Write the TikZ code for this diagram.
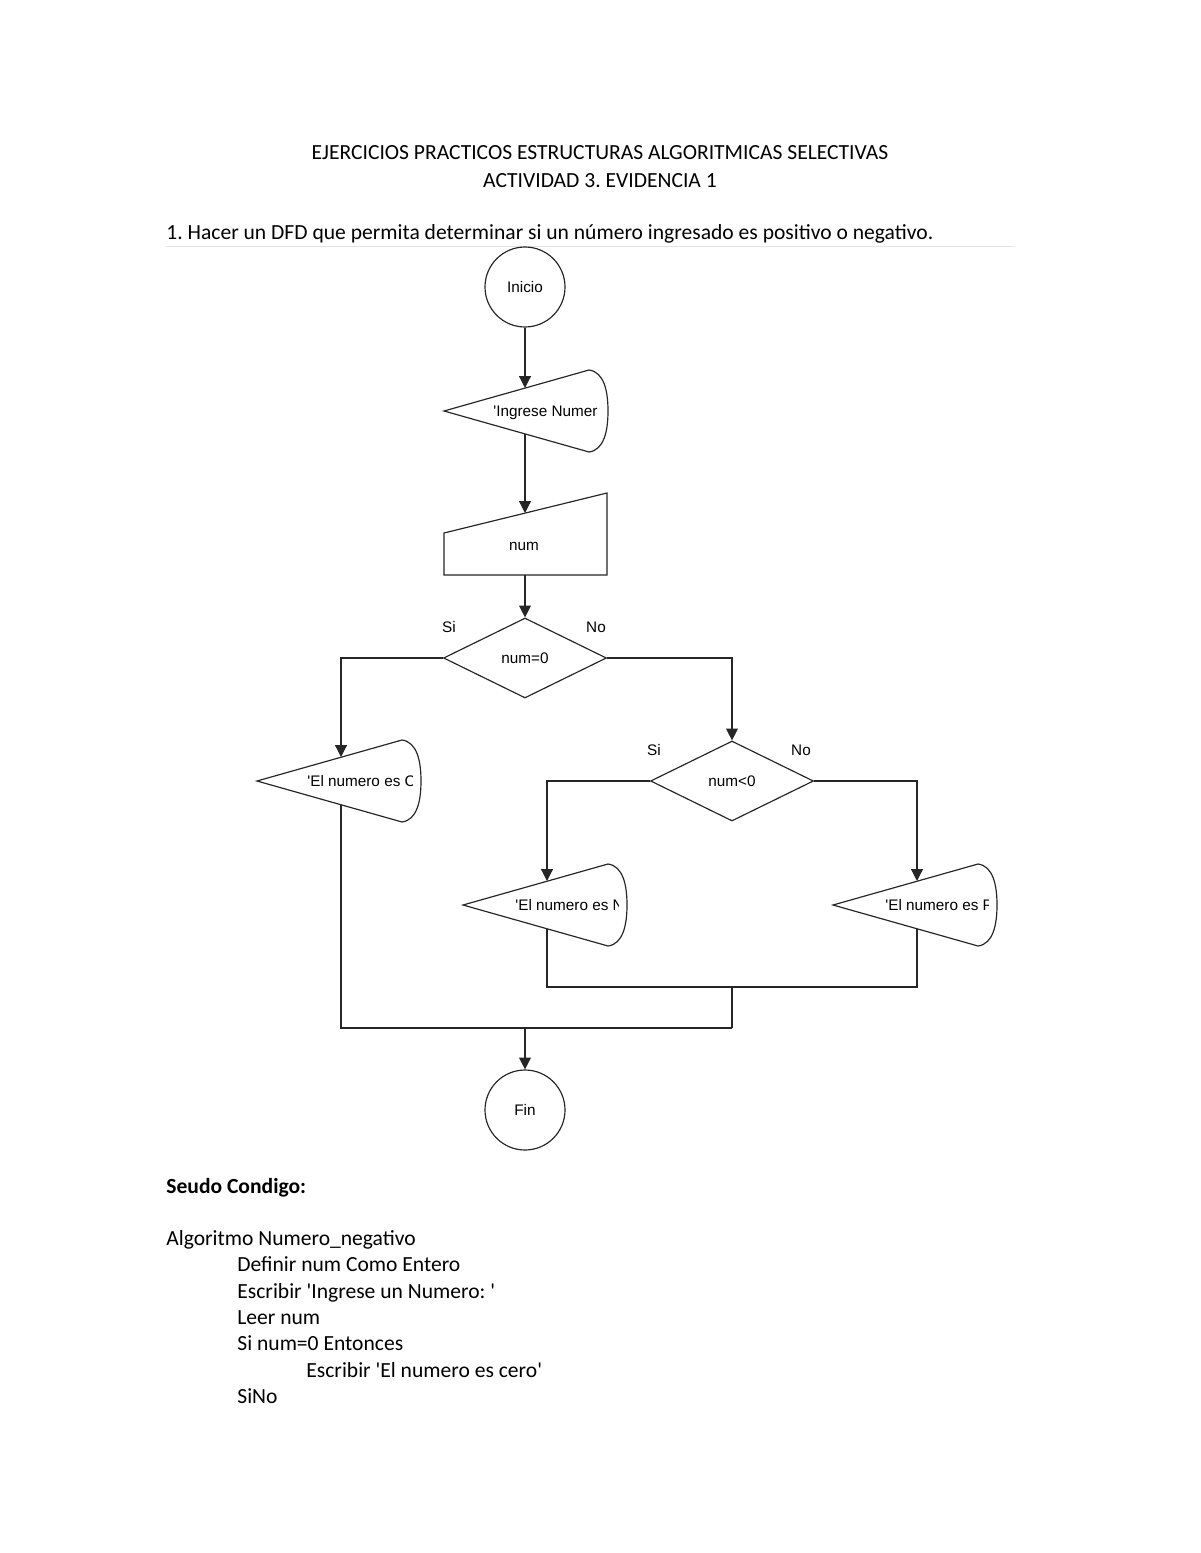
\documentclass[tikz,border=0pt]{standalone}
\usepackage{fontspec}
\setmainfont{Carlito}
\newfontfamily\arialf{Liberation Sans}
\usetikzlibrary{arrows.meta,shapes.geometric}
\frenchspacing
\newcommand\DispPath[2]{(#1,#2) -- (#1+145,#2-41) .. controls (#1+160,#2-39) and (#1+164,#2-20) .. (#1+164,#2) .. controls (#1+164,#2+20) and (#1+160,#2+39) .. (#1+145,#2+41) -- cycle}
\tikzset{
  flow/.style={draw=black!85, line width=0.6pt},
  arr/.style={flow, -{Triangle[length=6pt,width=6pt]}},
  ftext/.style={font=\arialf\fontsize{7.8}{9}\selectfont, text height=5.6pt, text depth=0pt, inner sep=0pt},
  doc/.style={font=\fontsize{11}{13}\selectfont, inner sep=0pt, anchor=base west},
  term/.style={flow, circle, minimum size=40.8pt, ftext},
  decision/.style={flow, diamond, minimum width=83.1pt, minimum height=40.8pt, ftext},
}
\begin{document}
\begin{tikzpicture}[x=0.51pt, y=-0.51pt]
\fill[white] (0,0) rectangle (1200,1553);
\useasboundingbox (0,0) rectangle (1200,1553);

% heading
\node[doc, anchor=base] (h1) at (600,160) {EJERCICIOS PRACTICOS ESTRUCTURAS ALGORITMICAS SELECTIVAS};
\node[doc, anchor=base] (h2) at (600,188) {ACTIVIDAD 3. EVIDENCIA 1};
\node[doc] (q1) at (166,240) {1. Hacer un DFD que permita determinar si un número ingresado es positivo o negativo.};
\draw[black!10, line width=0.5pt] (166,246) -- (1015,246);

% flowchart shapes
\node[term] (inicio) at (525,287) {Inicio};

\draw[flow] \DispPath{444}{411};
\begin{scope}
  \clip (444,360) rectangle (598,460);
  \node[ftext, anchor=west] (out1) at (493,411) {\textquotesingle Ingrese Numer};
\end{scope}
\coordinate (o1top) at (525,388);
\coordinate (o1bot) at (525,434);

\draw[flow] (444,533) -- (607,493) -- (607,575) -- (444,575) -- cycle;
\node[ftext] (leer) at (524,545) {num};
\coordinate (mitop) at (525,513);
\coordinate (mibot) at (525,575);

\node[decision] (dec1) at (525,658) {num=0};
\node[ftext] (si1) at (449,627) {Si};
\node[ftext] (no1) at (596,627) {No};

\draw[flow] \DispPath{257}{781};
\begin{scope}
  \clip (257,730) rectangle (412,830);
  \node[ftext, anchor=west] (out2) at (307,781) {\textquotesingle El numero es C};
\end{scope}
\coordinate (o2top) at (341,757);
\coordinate (o2bot) at (341,805);

\node[decision] (dec2) at (732,781) {num<0};
\node[ftext] (si2) at (654,750) {Si};
\node[ftext] (no2) at (801,750) {No};

\draw[flow] \DispPath{463}{905};
\begin{scope}
  \clip (463,855) rectangle (618,955);
  \node[ftext, anchor=west] (out3) at (515,905) {\textquotesingle El numero es N};
\end{scope}
\coordinate (o3top) at (547,881);
\coordinate (o3bot) at (547,929);

\draw[flow] \DispPath{833}{905};
\begin{scope}
  \clip (833,855) rectangle (988,955);
  \node[ftext, anchor=west] (out4) at (885,905) {\textquotesingle El numero es P};
\end{scope}
\coordinate (o4top) at (917,881);
\coordinate (o4bot) at (917,929);

\coordinate (jr) at (917,987);
\coordinate (jm) at (732,987);
\coordinate (jb) at (732,1028);
\coordinate (jf) at (525,1028);

\node[term] (fin) at (525,1110) {Fin};

% connectors
\draw[arr] (inicio) -- (o1top);
\draw[arr] (o1bot) -- (mitop);
\draw[arr] (mibot) -- (dec1.north);
\draw[arr] (dec1.west) -| (o2top);
\draw[arr] (dec1.east) -| (dec2.north);
\draw[arr] (dec2.west) -| (o3top);
\draw[arr] (dec2.east) -| (o4top);
\draw[flow] (o3bot) |- (jr) -- (o4bot);
\draw[flow] (jm) -- (jb);
\draw[flow] (o2bot) |- (jb);
\draw[arr] (jf) -- (fin);

% pseudo code
\node[doc, font=\fontsize{11}{13}\selectfont\bfseries] (seudo) at (166,1193) {Seudo Condigo:};
\node[doc] (p1) at (166,1245) {Algoritmo Numero\_negativo};
\node[doc] (p2) at (237,1271) {Definir num Como Entero};
\node[doc] (p3) at (237,1298) {Escribir \textquotesingle Ingrese un Numero: \textquotesingle};
\node[doc] (p4) at (237,1324) {Leer num};
\node[doc] (p5) at (237,1350) {Si num=0 Entonces};
\node[doc] (p6) at (306,1377) {Escribir \textquotesingle El numero es cero\textquotesingle};
\node[doc] (p7) at (237,1403) {SiNo};
\end{tikzpicture}
\end{document}
